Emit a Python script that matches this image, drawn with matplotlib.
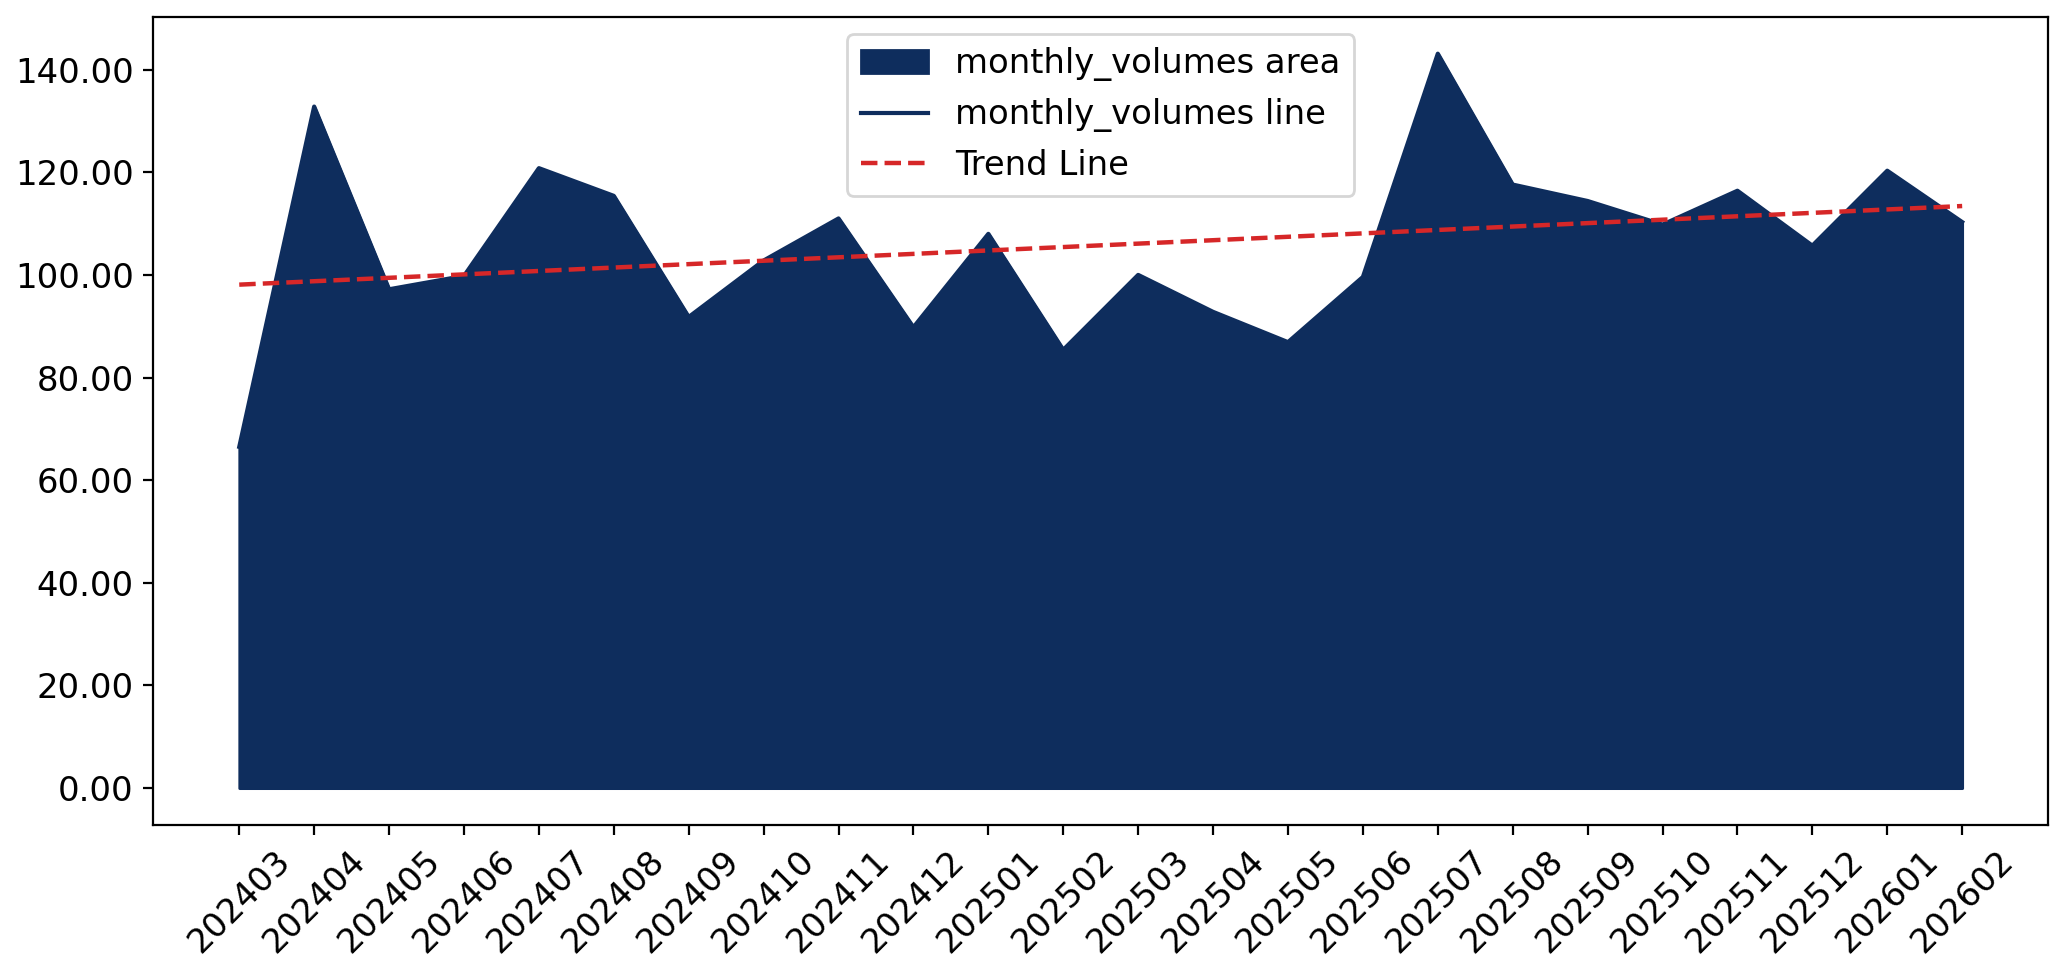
import matplotlib
matplotlib.use("Agg")
import matplotlib.pyplot as plt
import numpy as np

months = ["202403", "202404", "202405", "202406", "202407", "202408", "202409", "202410",
          "202411", "202412", "202501", "202502", "202503", "202504", "202505", "202506",
          "202507", "202508", "202509", "202510", "202511", "202512", "202601", "202602"]
monthly_volumes = [66.5, 132.8, 97.2, 99.8, 120.8, 115.4, 91.8, 102.8,
                   111.0, 89.8, 108.0, 85.4, 100.0, 92.8, 86.9, 99.6,
                   143.1, 117.6, 114.4, 109.8, 116.4, 105.7, 120.3, 110.3]

color = "#0e2d5d"
fs = 12.2
fig = plt.figure(figsize=(2069 / 200, 975 / 200), dpi=200)
ax = fig.add_axes([0.074, 0.154, 0.916, 0.8286])

x = np.arange(len(months))
y = np.array(monthly_volumes)
ax.fill_between(x, y, color=color, label="monthly_volumes area")
ax.plot(x, y, color=color, linewidth=1.5, label="monthly_volumes line")
coef = np.polyfit(x, y, 1)
ax.plot(x, np.polyval(coef, x), color="#d62728", linestyle="--", linewidth=1.6, label="Trend Line")

ax.set_xticks(x)
ax.set_xticklabels(months, rotation=45, fontsize=fs)
ax.tick_params(axis="y", labelsize=fs)
ax.yaxis.set_major_formatter(matplotlib.ticker.FormatStrFormatter("%.2f"))
ax.legend(loc="upper center", fontsize=fs)

fig.savefig("out.png", dpi=200)
